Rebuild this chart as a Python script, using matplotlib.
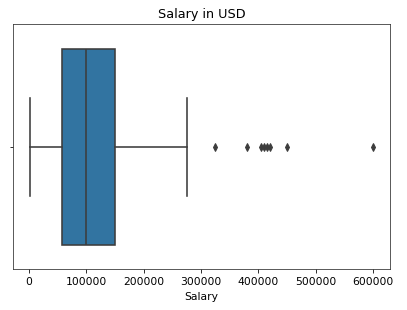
import matplotlib
matplotlib.use("Agg")
import matplotlib.pyplot as plt

title = "Salary in USD"
xlabel = "Salary"
q1 = 58000
median = 100000
q3 = 150000
whisker_low = 2000
whisker_high = 275000
outliers = [325000, 380000, 405000, 410000, 415000, 420000, 450000, 600000]

dpi = 72
fig = plt.figure(figsize=(407 / dpi, 310 / dpi), dpi=dpi)
ax = fig.add_axes([13 / 407, 1 - 269 / 310, (390 - 13) / 407, (269 - 24) / 310])

gray = "#3d3d3d"
stats = [dict(q1=q1, med=median, q3=q3, whislo=whisker_low, whishi=whisker_high,
              fliers=outliers, label="")]
ax.bxp(stats, positions=[0], widths=0.8, vert=False, patch_artist=True,
       boxprops=dict(facecolor="#3274a1", edgecolor=gray, linewidth=1.6),
       medianprops=dict(color=gray, linewidth=1.6),
       whiskerprops=dict(color=gray, linewidth=1.6),
       capprops=dict(color=gray, linewidth=1.6),
       flierprops=dict(marker="d", markerfacecolor=gray, markeredgecolor=gray,
                       markersize=5.5, linestyle="none"),
       capwidths=0.4, manage_ticks=False)
ax.set_ylim(0.5, -0.5)
ax.set_yticks([0])
ax.set_yticklabels([""])
ax.margins(x=0.05)
for s in ax.spines.values():
    s.set_color("#333333")
ax.set_title(title, fontsize=12.8, pad=6)
ax.set_xlabel(xlabel, fontsize=10.7, labelpad=5)
ax.tick_params(labelsize=10.7, pad=4.5)
fig.savefig("out.png", dpi=dpi)
